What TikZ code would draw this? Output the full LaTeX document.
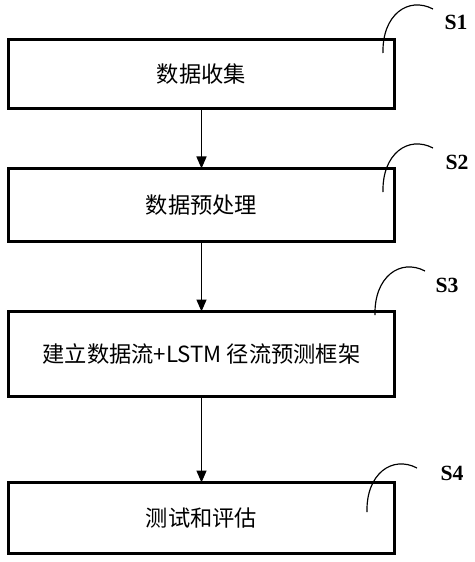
\documentclass[tikz,border=0pt]{standalone}
\usepackage{fontspec}
\setmainfont{Liberation Serif}
\newfontfamily\cjk{Noto Sans CJK SC}
\usepackage{tikz}
\usetikzlibrary{arrows.meta, positioning, calc}
\tikzstyle{arrow} = [line width=1.3pt, -{Triangle[length=0.36cm, width=0.3cm]}]

\begin{document}
\begin{tikzpicture}[
    x=0.03cm, y=-0.03cm,
    stepbox/.style={rectangle, draw=black, line width=2.6pt, minimum width=11.58cm, inner sep=0pt, outer sep=0pt, font=\cjk\fontsize{19}{22}\selectfont, text centered},
    lead/.style={line width=1pt},
    steplabel/.style={font=\bfseries\fontsize{18.5}{22}\selectfont},
]
\useasboundingbox (0,0) rectangle (474,562);

% Steps
\node[stepbox, minimum height=2.07cm] (collect) at (201.5, 74) {数据收集};
\node[stepbox, minimum height=2.19cm] (prep) at (201.5, 205) {数据预处理};
\node[stepbox, minimum height=2.55cm] (lstm) at (201.5, 354) {建立数据流+LSTM 径流预测框架};
\node[stepbox, minimum height=2.13cm] (eval) at (201.5, 518) {测试和评估};

% Flow
\draw[arrow] (collect) -- (prep);
\draw[arrow] (prep) -- (lstm);
\draw[arrow] (lstm) -- (eval);

% Step labels
\node[steplabel] (s1) at (456, 22) {S1};
\node[steplabel] (s2) at (457, 162) {S2};
\node[steplabel] (s3) at (447, 285) {S3};
\node[steplabel] (s4) at (452, 473) {S4};

% Leader curves
\draw[lead] (383,53) .. controls (382,15) and (408,-4) .. (433,9);
\draw[lead] (383,192) .. controls (382,154) and (408,135) .. (433,148);
\draw[lead] (375,315) .. controls (374,277) and (400,258) .. (425,271);
\draw[lead] (367,512) .. controls (366,474) and (392,455) .. (417,468);

\end{tikzpicture}
\end{document}
